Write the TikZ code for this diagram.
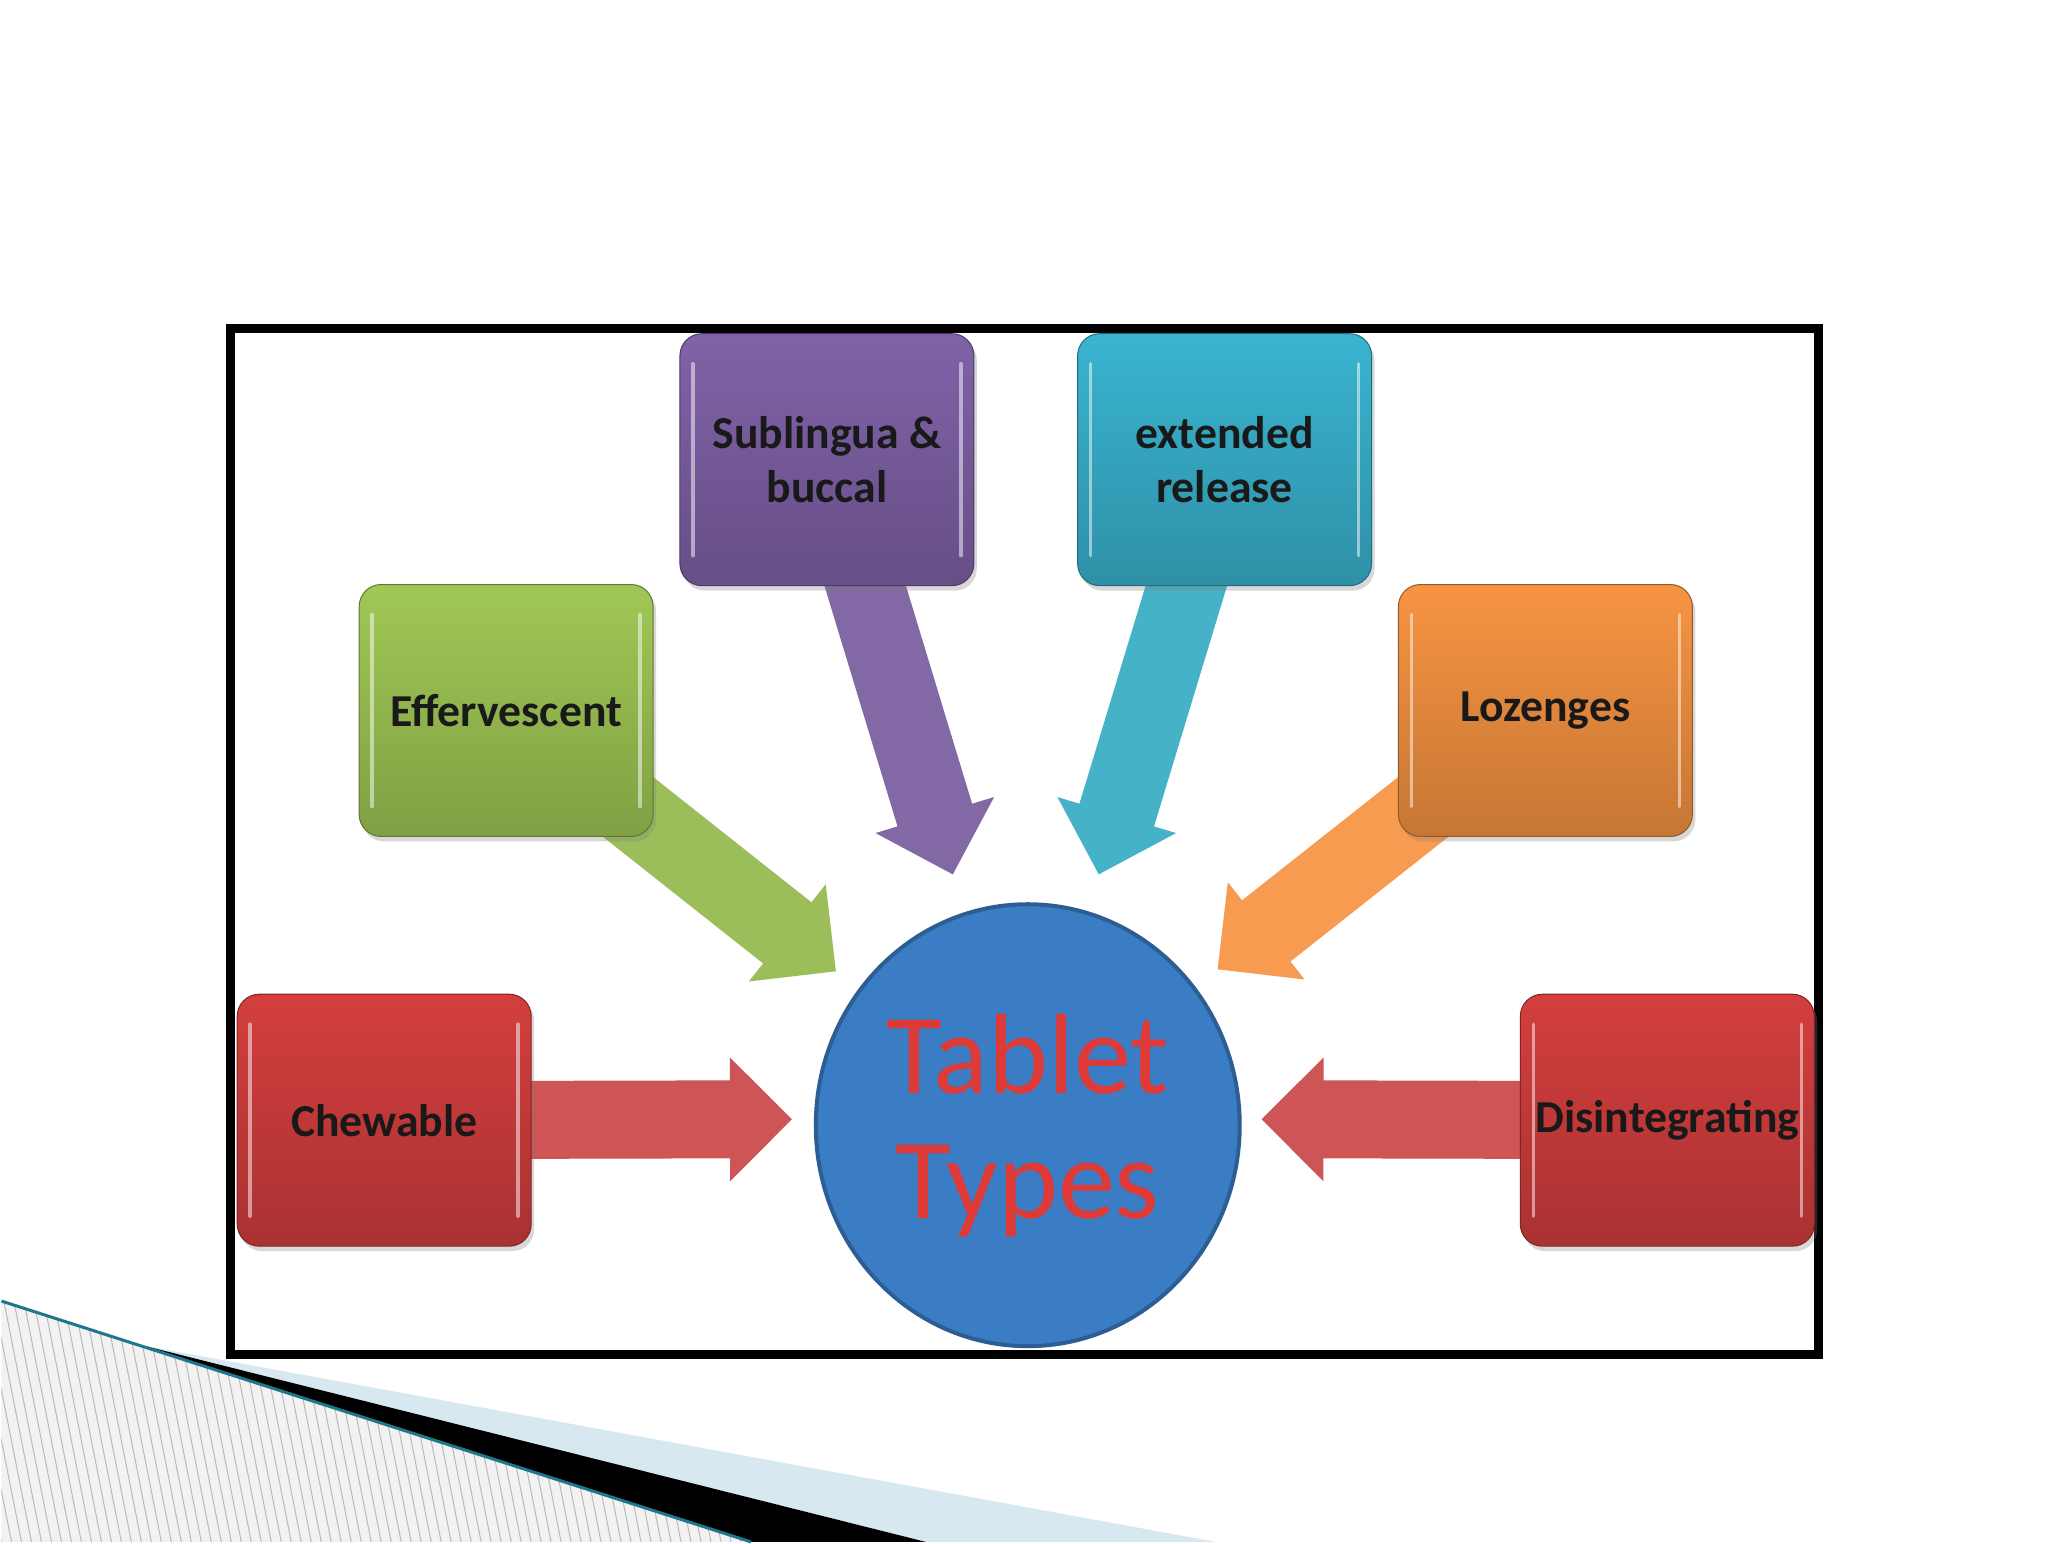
\documentclass[tikz,border=0pt]{standalone}
\usepackage{fontspec}
\setmainfont{Carlito}
\usetikzlibrary{calc,shapes.geometric,shadows,backgrounds}

\definecolor{boxred}{RGB}{212,62,62}
\definecolor{boxgreen}{RGB}{160,200,85}
\definecolor{boxpurple}{RGB}{128,98,168}
\definecolor{boxteal}{RGB}{58,180,208}
\definecolor{boxorange}{RGB}{247,148,66}
\definecolor{arrred}{RGB}{205,85,85}
\definecolor{arrgreen}{RGB}{155,190,90}
\definecolor{arrpurple}{RGB}{130,105,165}
\definecolor{arrteal}{RGB}{70,178,200}
\definecolor{arrorange}{RGB}{247,155,80}
\definecolor{tabblue}{RGB}{58,125,196}
\definecolor{tabred}{RGB}{222,58,56}
\definecolor{decoteal}{RGB}{30,120,140}
\definecolor{decoblue}{RGB}{215,232,240}

\newcommand\shaftw{0.39cm}
\newcommand\headw{0.62cm}
\newcommand\headl{0.62cm}
\newcommand\blockarrow[3]{%
  \coordinate (hb) at ($(#3)!\headl!(#2.center)$);
  \fill[#1] ($(#2.center)!\shaftw!90:(#3)$) -- ($(hb)!\shaftw!90:(#3)$)
    -- ($(hb)!\headw!90:(#3)$) -- (#3) -- ($(hb)!\headw!-90:(#3)$)
    -- ($(hb)!\shaftw!-90:(#3)$) -- ($(#2.center)!\shaftw!-90:(#3)$) -- cycle;
}

\begin{document}
\begin{tikzpicture}[x=0.01cm, y=-0.01cm,
  tbox/.style={rounded corners=0.22cm, minimum width=2.94cm, minimum height=2.52cm,
    inner sep=0pt, align=center, text=black!90,
    font=\bfseries\fontsize{13}{15.6}\selectfont,
    top color=#1, bottom color=#1!80!black, draw=#1!60!black, line width=0.01cm,
    drop shadow={opacity=0.3, shadow xshift=0.03cm, shadow yshift=-0.05cm},
    path picture={
      \draw[white, opacity=0.5, line width=0.035cm, line cap=round]
        ([xshift=0.13cm, yshift=-0.3cm]path picture bounding box.north west) --
        ([xshift=0.13cm, yshift=0.3cm]path picture bounding box.south west);
      \draw[white, opacity=0.5, line width=0.035cm, line cap=round]
        ([xshift=-0.13cm, yshift=-0.3cm]path picture bounding box.north east) --
        ([xshift=-0.13cm, yshift=0.3cm]path picture bounding box.south east);
    }}]

  \fill[decoblue] (150,1348) -- (1215,1543) -- (925,1543) -- (120,1341) -- cycle;
  \fill[black] (120,1341) -- (925,1543) -- (750,1543) -- cycle;
  \begin{scope}
    \clip (0,1302) -- (750,1543) -- (0,1543) -- cycle;
    \fill[gray!10] (0,1290) rectangle (760,1543);
    \foreach \x in {-60,-50,...,760}
      \draw[gray!55, line width=0.01cm] (\x,1290) -- (\x+50,1543);
  \end{scope}
  \draw[decoteal, line width=0.03cm] (0,1302) -- (750,1543);

  \draw[line width=0.09cm] (229,329) rectangle (1818,1355);

  \node[tbox=boxred] (chew) at (383,1121) {Chewable};
  \node[tbox=boxgreen] (eff) at (505,711) {Effervescent};
  \node[tbox=boxpurple] (sub) at (826,460) {Sublingua \&\\buccal};
  \node[tbox=boxteal] (ext) at (1224,460) {extended\\release};
  \node[tbox=boxorange] (loz) at (1545,711) {Lozenges};
  \node[tbox=boxred] (dis) at (1667,1121) {Disintegrating};

  \node[ellipse, minimum width=4.24cm, minimum height=4.42cm, inner sep=0pt,
    fill=tabblue, draw=tabblue!75!black, line width=0.04cm,
    align=center, text=tabred, font=\fontsize{32.5}{35.6}\selectfont] (tab) at (1027,1126) {Tablet\\Types};

  \coordinate (chewtip) at (791,1120);
  \coordinate (efftip) at (835,972);
  \coordinate (subtip) at (952,875);
  \coordinate (exttip) at (1098,875);
  \coordinate (loztip) at (1217,970);
  \coordinate (distip) at (1261,1120);

  \begin{scope}[on background layer]
    \fill[white] (0,0) rectangle (2048,1543);
    \blockarrow{arrred}{chew}{chewtip}
    \blockarrow{arrgreen}{eff}{efftip}
    \blockarrow{arrpurple}{sub}{subtip}
    \blockarrow{arrteal}{ext}{exttip}
    \blockarrow{arrorange}{loz}{loztip}
    \blockarrow{arrred}{dis}{distip}
  \end{scope}

\end{tikzpicture}
\end{document}
